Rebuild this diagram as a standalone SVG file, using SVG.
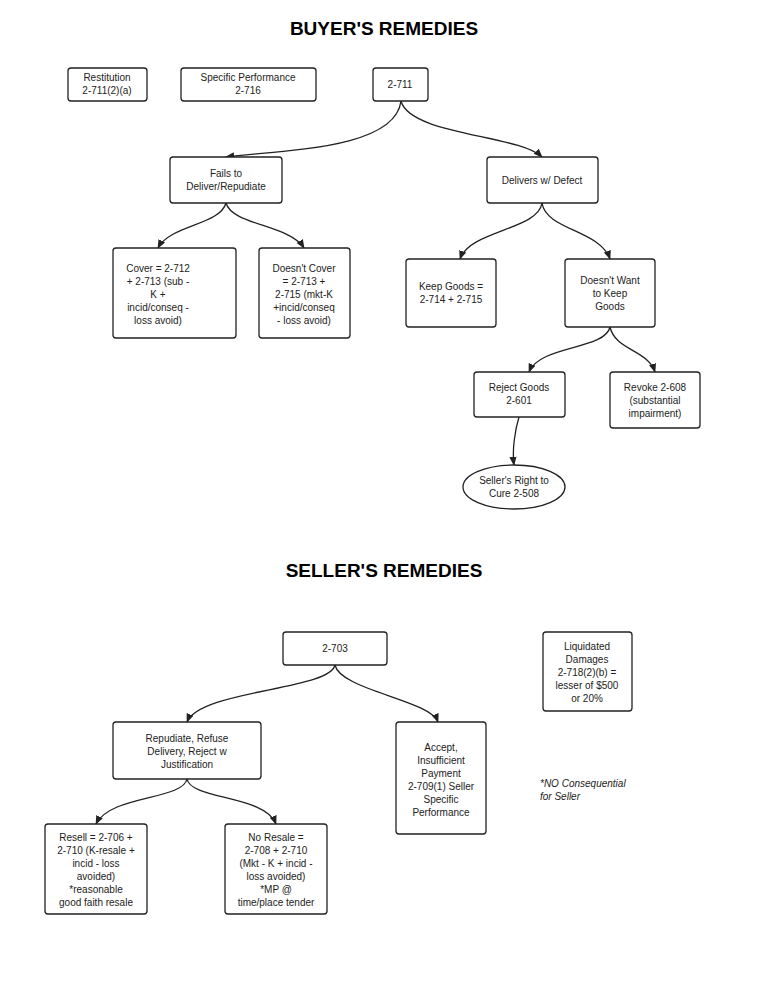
<svg xmlns="http://www.w3.org/2000/svg" width="768" height="994" viewBox="0 0 768 994">
<style>
.b{fill:#fff;stroke:#222;stroke-width:1.3}
text{font-family:"Liberation Sans",Arial,sans-serif;font-size:10px;fill:#222;text-anchor:middle}
.t{font-size:19px;font-weight:bold;fill:#000}
.e{fill:none;stroke:#222;stroke-width:1.3;marker-end:url(#a)}
</style>
<defs><marker id="a" viewBox="0 0 10 10" refX="9" refY="5" markerWidth="7" markerHeight="7" orient="auto"><path d="M0,1L10,5L0,9z" fill="#222"/></marker></defs>
<rect width="768" height="994" fill="#fff"/>
<text class="t" x="384" y="35">BUYER'S REMEDIES</text>
<text class="t" x="384" y="577">SELLER'S REMEDIES</text>
<g id="connectors">
<path class="e" d="M401,101C395,150 280,150 226,157"/>
<path class="e" d="M401,101C410,135 520,135 542,157"/>
<path class="e" d="M226,203C220,225 170,225 158,248"/>
<path class="e" d="M226,203C232,225 290,225 304,248"/>
<path class="e" d="M542,203C538,230 470,230 460,259"/>
<path class="e" d="M542,203C546,230 600,230 610,259"/>
<path class="e" d="M610,327C605,350 540,345 529,372"/>
<path class="e" d="M610,327C615,350 648,350 655,372"/>
<path class="e" d="M519,417C515,430 512,450 514,465"/>
<path class="e" d="M335,665C330,690 200,690 187,722"/>
<path class="e" d="M335,665C340,690 430,700 438,722"/>
<path class="e" d="M187,779C183,800 110,795 96,824"/>
<path class="e" d="M187,779C191,800 265,795 276,824"/>
</g>
<g id="n1"><rect class="b" x="68" y="68" width="79" height="33" rx="3"/><text x="107" y="81">Restitution</text><text x="107" y="94">2-711(2)(a)</text></g>
<g id="n2"><rect class="b" x="181" y="68" width="135" height="33" rx="3"/><text x="248" y="81">Specific Performance</text><text x="248" y="94">2-716</text></g>
<g id="n3"><rect class="b" x="373" y="68" width="55" height="33" rx="3"/><text x="400" y="88">2-711</text></g>
<g id="n4"><rect class="b" x="170" y="157" width="112" height="46" rx="3"/><text x="226" y="177">Fails to</text><text x="226" y="190">Deliver/Repudiate</text></g>
<g id="n5"><rect class="b" x="487" y="157" width="111" height="46" rx="3"/><text x="542" y="184">Delivers w/ Defect</text></g>
<g id="n6"><rect class="b" x="113" y="248" width="123" height="90" rx="3"/><text x="158" y="272">Cover = 2-712</text><text x="158" y="285">+ 2-713 (sub -</text><text x="158" y="298">K +</text><text x="158" y="311">incid/conseq -</text><text x="158" y="324">loss avoid)</text></g>
<g id="n7"><rect class="b" x="259" y="248" width="91" height="90" rx="3"/><text x="304" y="272">Doesn't Cover</text><text x="304" y="285">= 2-713 +</text><text x="304" y="298">2-715 (mkt-K</text><text x="304" y="311">+incid/conseq</text><text x="304" y="324">- loss avoid)</text></g>
<g id="n8"><rect class="b" x="406" y="259" width="90" height="68" rx="3"/><text x="451" y="290">Keep Goods =</text><text x="451" y="303">2-714 + 2-715</text></g>
<g id="n9"><rect class="b" x="565" y="259" width="90" height="68" rx="3"/><text x="610" y="284">Doesn't Want</text><text x="610" y="297">to Keep</text><text x="610" y="310">Goods</text></g>
<g id="n10"><rect class="b" x="474" y="372" width="91" height="45" rx="3"/><text x="519" y="391">Reject Goods</text><text x="519" y="404">2-601</text></g>
<g id="n11"><rect class="b" x="610" y="372" width="90" height="56" rx="3"/><text x="655" y="391">Revoke 2-608</text><text x="655" y="404">(substantial</text><text x="655" y="417">impairment)</text></g>
<g id="n12"><ellipse class="b" cx="514" cy="487" rx="51" ry="22"/><text x="514" y="484">Seller's Right to</text><text x="514" y="497">Cure 2-508</text></g>
<g id="n13"><rect class="b" x="283" y="632" width="104" height="33" rx="3"/><text x="335" y="652">2-703</text></g>
<g id="n14"><rect class="b" x="543" y="632" width="89" height="79" rx="3"/><text x="587" y="650">Liquidated</text><text x="587" y="663">Damages</text><text x="587" y="676">2-718(2)(b) =</text><text x="587" y="689">lesser of $500</text><text x="587" y="702">or 20%</text></g>
<g id="n15"><rect class="b" x="113" y="722" width="148" height="57" rx="3"/><text x="187" y="742">Repudiate, Refuse</text><text x="187" y="755">Delivery, Reject w</text><text x="187" y="768">Justification</text></g>
<g id="n16"><rect class="b" x="396" y="722" width="90" height="112" rx="3"/><text x="441" y="751">Accept,</text><text x="441" y="764">Insufficient</text><text x="441" y="777">Payment</text><text x="441" y="790">2-709(1) Seller</text><text x="441" y="803">Specific</text><text x="441" y="816">Performance</text></g>
<g id="n17"><rect class="b" x="45" y="824" width="102" height="90" rx="3"/><text x="96" y="841">Resell = 2-706 +</text><text x="96" y="854">2-710 (K-resale +</text><text x="96" y="867">incid - loss</text><text x="96" y="880">avoided)</text><text x="96" y="893">*reasonable</text><text x="96" y="906">good faith resale</text></g>
<g id="n18"><rect class="b" x="225" y="824" width="102" height="90" rx="3"/><text x="276" y="841">No Resale =</text><text x="276" y="854">2-708 + 2-710</text><text x="276" y="867">(Mkt - K + incid -</text><text x="276" y="880">loss avoided)</text><text x="276" y="893">*MP @</text><text x="276" y="906">time/place tender</text></g>
<g id="note"><text x="540" y="787" style="text-anchor:start;font-style:italic">*NO Consequential</text><text x="540" y="800" style="text-anchor:start;font-style:italic">for Seller</text></g>
</svg>
